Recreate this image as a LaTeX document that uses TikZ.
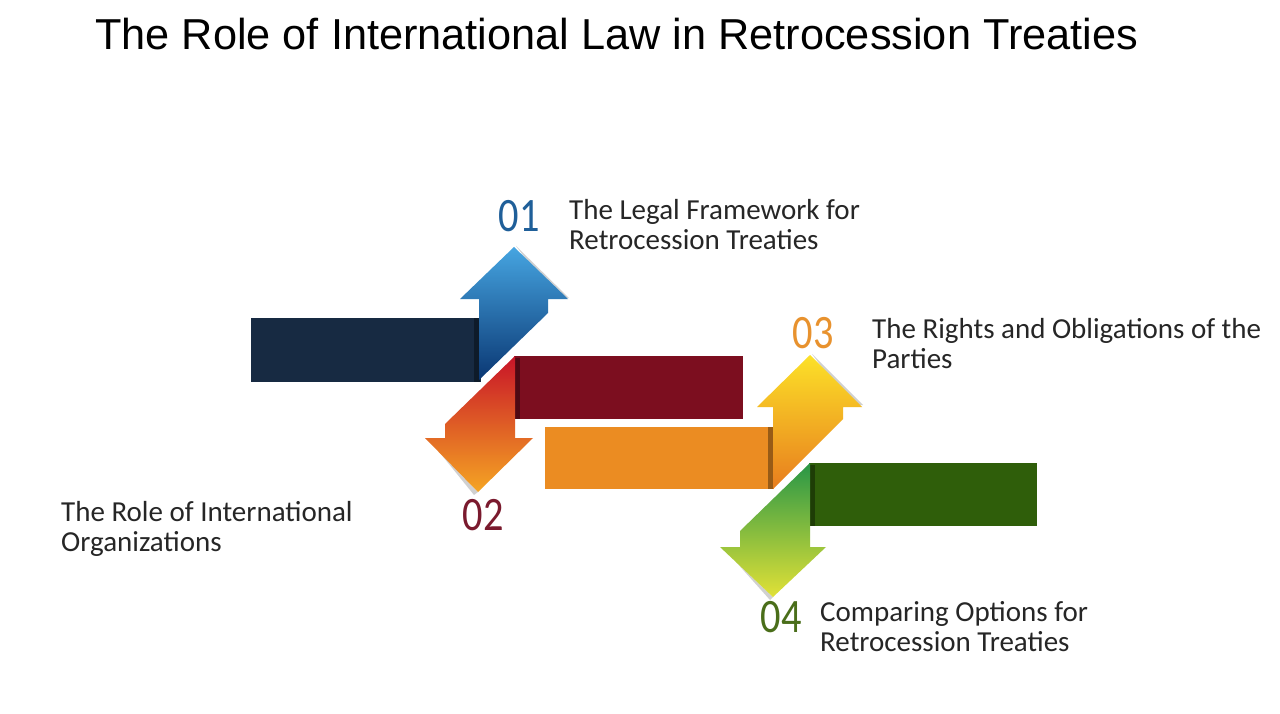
\documentclass[tikz,border=0pt]{standalone}
\usepackage{fontspec}
\setmainfont{Carlito}
\newfontfamily\titlefont{Liberation Sans}
\usetikzlibrary{calc}
\definecolor{navy}{HTML}{172A42}
\definecolor{maroon}{HTML}{7C0E1F}
\definecolor{orangebar}{HTML}{EB8C22}
\definecolor{greenbar}{HTML}{2F5E0A}
\definecolor{numblue}{HTML}{1F5F99}
\definecolor{numred}{HTML}{7A1A2E}
\definecolor{numorange}{HTML}{E8922E}
\definecolor{numgreen}{HTML}{4A6E1A}
\newcommand{\numtxt}[1]{\scalebox{0.84}[1]{#1}}
\tikzset{
  label/.style={anchor=base west, align=left, inner sep=0pt, font=\fontsize{29}{30}\selectfont, text=black!85},
  num/.style={anchor=center, inner sep=0pt, font=\fontsize{48}{48}\selectfont},
  edge/.style={black, opacity=0.35},
  tipshadow/.style={fill=gray!60, opacity=0.6}
}
\begin{document}
\begin{tikzpicture}[x=1pt,y=-1pt]
\useasboundingbox (0,0) rectangle (1280,714);
\fill[white] (0,0) rectangle (1280,714);

% title
\node[anchor=base west, inner sep=0pt, font=\titlefont\fontsize{43.3}{44}\selectfont] (title) at (95,50) {The Role of International Law in Retrocession Treaties};

% ---- arrow 1 (navy bar, blue arrow up)
\fill[navy] (251,318) rectangle (481,382);
\fill[edge] (474,318) rectangle (480,382);
\fill[tipshadow] (516,246) -- (569,298) -- (556,298) -- cycle;
\shade[top color={rgb,255:red,70;green,165;blue,225}, bottom color={rgb,255:red,10;green,55;blue,115}]
  (479,380) -- (479,299) -- (460,299) -- (514,247) -- (568,299) -- (548,299) -- (548,313) -- cycle;

% ---- arrow 2 (maroon bar, red arrow down)
\fill[maroon] (514,356) rectangle (743,419);
\fill[edge] (515,358) rectangle (520,419);
\fill[tipshadow] (478,492) -- (440,453) -- (474,495) -- cycle;
\shade[top color={rgb,255:red,200;green,20;blue,40}, middle color={rgb,255:red,225;green,45;blue,35}, bottom color={rgb,255:red,245;green,165;blue,35}]
  (515,356) -- (515,438) -- (533,438) -- (478,492) -- (425,438) -- (445,438) -- (445,424) -- cycle;

% ---- arrow 3 (orange bar, yellow arrow up)
\fill[orangebar] (545,427) rectangle (774,489);
\fill[edge] (768,427) rectangle (773,489);
\fill[tipshadow] (812,354) -- (863,405) -- (850,405) -- cycle;
\shade[top color={rgb,255:red,252;green,225;blue,40}, middle color={rgb,255:red,248;green,175;blue,40}, bottom color={rgb,255:red,232;green,125;blue,30}]
  (773,489) -- (773,407) -- (757,407) -- (810,355) -- (862,407) -- (843,407) -- (843,419) -- cycle;

% ---- arrow 4 (green bar, green arrow down)
\fill[greenbar] (809,463) rectangle (1037,526);
\fill[edge] (810,465) rectangle (815,526);
\fill[tipshadow] (773,597) -- (736,562) -- (770,600) -- cycle;
\shade[top color={rgb,255:red,40;green,150;blue,70}, middle color={rgb,255:red,140;green,190;blue,60}, bottom color={rgb,255:red,225;green,225;blue,55}]
  (810,463) -- (810,547) -- (826,547) -- (773,597) -- (720,547) -- (740,547) -- (740,531) -- cycle;

% numbers
\node[num, text=numblue] (n1) at (519,216) {\numtxt{01}};
\node[num, text=numred] (n2) at (483,515) {\numtxt{02}};
\node[num, text=numorange] (n3) at (813,333) {\numtxt{03}};
\node[num, text=numgreen] (n4) at (781,617) {\numtxt{04}};

% labels (base anchor = baseline of the last line)
\node[label] (t1) at (569,250) {The Legal Framework for\\Retrocession Treaties};
\node[label] (t2) at (61,551) {The Role of International\\Organizations};
\node[label] (t3) at (872,368) {The Rights and Obligations of the\\Parties};
\node[label] (t4) at (820,651) {Comparing Options for\\Retrocession Treaties};
\end{tikzpicture}
\end{document}
